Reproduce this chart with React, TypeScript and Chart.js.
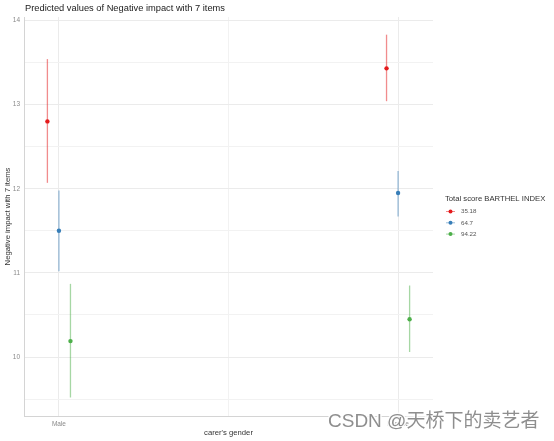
import React, { useEffect, useRef } from 'react';
import { Chart, registerables } from 'chart.js';

Chart.register(...registerables);

const categories = ['Male', 'Female'];
const groupLabels = ['35.18', '64.7', '94.22'];
const groupColors = ['#E41A1C', '#377EB8', '#4DAF4A'];
const barColors = ['rgba(228,26,28,0.5)', 'rgba(55,126,184,0.5)', 'rgba(77,175,74,0.5)'];

const pred3518 = [12.8, 13.43];
const low3518 = [12.07, 13.04];
const high3518 = [13.54, 13.83];

const pred647 = [11.5, 11.95];
const low647 = [11.02, 11.67];
const high647 = [11.98, 12.21];

const pred9422 = [10.19, 10.45];
const low9422 = [9.52, 10.06];
const high9422 = [10.87, 10.85];

const yTicks = [9.5, 10, 10.5, 11, 11.5, 12, 12.5, 13, 13.5, 14];
const xTicks = [1, 1.5, 2];
const dodge = [-0.034, 0, 0.034];

const titleText = 'Predicted values of Negative impact with 7 items';
const yTitle = 'Negative impact with 7 items';
const xTitle = "carer's gender";
const legendTitle = 'Total score BARTHEL INDEX';
const watermark = 'CSDN @天桥下的卖艺者';

const FONT = '"Liberation Sans", Arial, sans-serif';

const preds = [pred3518, pred647, pred9422];
const lows = [low3518, low647, low9422];
const highs = [high3518, high647, high9422];

const errorBars = {
  id: 'errorBars',
  beforeDatasetsDraw(chart: any) {
    const { ctx, scales } = chart;
    const x = scales.x;
    const y = scales.y;
    chart.data.datasets.forEach((ds: any) => {
      ctx.save();
      ctx.strokeStyle = ds.errColor;
      ctx.lineWidth = 1.3;
      ds.data.forEach((pt: any, i: number) => {
        const px = x.getPixelForValue(pt.x);
        ctx.beginPath();
        ctx.moveTo(px, y.getPixelForValue(ds.errLow[i]));
        ctx.lineTo(px, y.getPixelForValue(ds.errHigh[i]));
        ctx.stroke();
      });
      ctx.restore();
    });
  },
};

const decorations = {
  id: 'decorations',
  afterDraw(chart: any) {
    const { ctx, chartArea } = chart;
    ctx.save();
    // title
    ctx.fillStyle = '#1a1a1a';
    ctx.font = `9.3px ${FONT}`;
    ctx.textBaseline = 'middle';
    ctx.textAlign = 'left';
    ctx.fillText(titleText, chartArea.left + 1, 8.5);

    // legend
    const lx = chartArea.right + 12;
    ctx.fillStyle = '#333333';
    ctx.font = `7.7px ${FONT}`;
    ctx.fillText(legendTitle, lx, 199);
    chart.data.datasets.forEach((ds: any, i: number) => {
      const ly = 211.5 + i * 11.3;
      ctx.strokeStyle = ds.errColor;
      ctx.lineWidth = 1;
      ctx.beginPath();
      ctx.moveTo(lx + 1, ly);
      ctx.lineTo(lx + 10, ly);
      ctx.stroke();
      ctx.fillStyle = ds.backgroundColor;
      ctx.beginPath();
      ctx.arc(lx + 5.5, ly, 2, 0, Math.PI * 2);
      ctx.fill();
      ctx.fillStyle = '#555555';
      ctx.font = `6.2px ${FONT}`;
      ctx.fillText(ds.label, lx + 16, ly);
    });

    // watermark
    ctx.font = `19px "Liberation Sans", "Noto Sans CJK SC", sans-serif`;
    ctx.textAlign = 'left';
    ctx.textBaseline = 'middle';
    ctx.lineWidth = 3;
    ctx.strokeStyle = 'rgba(255,255,255,0.9)';
    ctx.strokeText(watermark, 328, 422);
    ctx.fillStyle = 'rgba(130,130,130,0.9)';
    ctx.fillText(watermark, 328, 422);
    ctx.restore();
  },
};

export default function App() {
  const ref = useRef<HTMLCanvasElement | null>(null);

  useEffect(() => {
    if (!ref.current) return;
    const datasets = groupLabels.map((label, g) => ({
      label,
      data: categories.map((_, i) => ({ x: i + 1 + dodge[g], y: preds[g][i] })),
      errLow: lows[g],
      errHigh: highs[g],
      errColor: barColors[g],
      backgroundColor: groupColors[g],
      borderColor: groupColors[g],
      pointRadius: 2.2,
      pointBorderWidth: 0,
    }));

    const chart = new Chart(ref.current, {
      type: 'scatter',
      data: { datasets } as any,
      options: {
        animation: false,
        responsive: false,
        layout: { padding: { top: 17, right: 121, left: 0, bottom: 0 } },
        plugins: {
          legend: { display: false },
          tooltip: { enabled: false },
          title: { display: false },
        },
        scales: {
          x: {
            type: 'linear',
            min: 0.897,
            max: 2.103,
            afterBuildTicks: (scale: any) => {
              scale.ticks = xTicks.map((v) => ({ value: v }));
            },
            afterFit: (scale: any) => {
              scale.height = 25;
            },
            ticks: {
              autoSkip: false,
              maxRotation: 0,
              padding: 4,
              color: '#8a8a8a',
              font: { family: FONT, size: 6.5 },
              callback: (v: any) => {
                const idx = Math.round(Number(v)) - 1;
                return Number.isInteger(Number(v)) ? categories[idx] : '';
              },
            },
            grid: {
              drawTicks: false,
              color: (c: any) => (Number.isInteger(c.tick?.value) ? '#ebebeb' : '#f2f2f2'),
              lineWidth: 1,
            },
            border: { display: true, color: '#d4d4d4', width: 1 },
            title: {
              display: true,
              text: xTitle,
              color: '#333333',
              font: { family: FONT, size: 7.7 },
              padding: { top: 0, bottom: 3 },
            },
          },
          y: {
            type: 'linear',
            min: 9.3,
            max: 14.04,
            afterBuildTicks: (scale: any) => {
              scale.ticks = yTicks.map((v) => ({ value: v }));
            },
            afterFit: (scale: any) => {
              scale.width = 24;
            },
            ticks: {
              autoSkip: false,
              padding: 4,
              color: '#8a8a8a',
              font: { family: FONT, size: 6.5 },
              callback: (v: any) => (Number.isInteger(Number(v)) ? String(v) : ''),
            },
            grid: {
              drawTicks: false,
              color: (c: any) => (Number.isInteger(c.tick?.value) ? '#ebebeb' : '#f2f2f2'),
              lineWidth: 1,
            },
            border: { display: true, color: '#d4d4d4', width: 1 },
            title: {
              display: true,
              text: yTitle,
              color: '#333333',
              font: { family: FONT, size: 7.7 },
              padding: { top: 3, bottom: 0 },
            },
          },
        },
      } as any,
      plugins: [errorBars, decorations],
    });
    return () => chart.destroy();
  }, []);

  return (
    <div style={{ position: 'absolute', left: 0, top: 0, width: 554, height: 441, background: '#ffffff' }}>
      <canvas ref={ref} width={554} height={441} />
    </div>
  );
}
